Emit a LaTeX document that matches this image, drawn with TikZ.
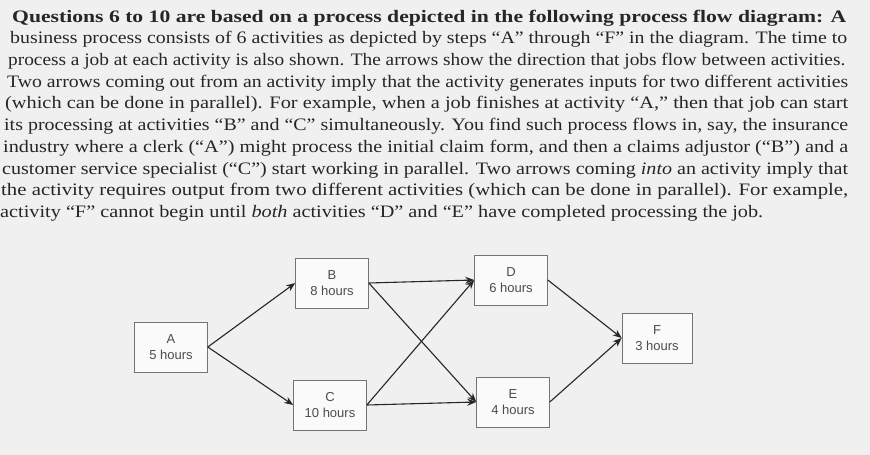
\documentclass[tikz,border=0pt]{standalone}
\usepackage{fontspec}
\setmainfont{Liberation Serif}
\setsansfont{Liberation Sans}
\usetikzlibrary{arrows.meta}
\begin{document}
\begin{tikzpicture}[x=1pt,y=-1pt,
  txt/.style={anchor=west,inner sep=0pt,font=\fontsize{17.5}{20}\selectfont,text=black!85},
  proc/.style={draw=black!55,line width=0.6pt,fill=white!96!gray,minimum width=73pt,minimum height=50pt,align=center,font=\sffamily\fontsize{13}{16}\selectfont,text=black!70},
  flow/.style={line width=1.1pt,draw=black!85,-{Stealth[length=9pt,width=7pt]}}]
\fill[black!6] (0,0) rectangle (870,455);
\useasboundingbox (0,0) rectangle (870,455);
\node[txt] (l1) at (12,18) {\resizebox{834pt}{\height}{\textbf{Questions 6 to 10 are based on a process depicted in the following process flow diagram: A}}};
\node[txt] (l2) at (10,39) {\resizebox{837pt}{\height}{business process consists of 6 activities as depicted by steps “A” through “F” in the diagram. The time to}};
\node[txt] (l3) at (8,61) {\resizebox{837pt}{\height}{process a job at each activity is also shown. The arrows show the direction that jobs flow between activities.}};
\node[txt] (l4) at (7,83) {\resizebox{841pt}{\height}{Two arrows coming out from an activity imply that the activity generates inputs for two different activities}};
\node[txt] (l5) at (5,104) {\resizebox{843pt}{\height}{(which can be done in parallel). For example, when a job finishes at activity “A,” then that job can start}};
\node[txt] (l6) at (4,126) {\resizebox{844pt}{\height}{its processing at activities “B” and “C” simultaneously. You find such process flows in, say, the insurance}};
\node[txt] (l7) at (3,148) {\resizebox{845pt}{\height}{industry where a clerk (“A”) might process the initial claim form, and then a claims adjustor (“B”) and a}};
\node[txt] (l8) at (2,170) {\resizebox{846pt}{\height}{customer service specialist (“C”) start working in parallel. Two arrows coming \textit{into} an activity imply that}};
\node[txt] (l9) at (1,191) {\resizebox{847pt}{\height}{the activity requires output from two different activities (which can be done in parallel). For example,}};
\node[txt] (l10) at (0,213) {\resizebox{763pt}{\height}{activity “F” cannot begin until \textit{both} activities “D” and “E” have completed processing the job.}};

\node[proc] (A) at (171,347) {A\\5 hours};
\node[proc] (B) at (332,283) {B\\8 hours};
\node[proc] (C) at (330,405) {C\\10 hours};
\node[proc] (D) at (511,280) {D\\6 hours};
\node[proc] (E) at (513,402) {E\\4 hours};
\node[proc,minimum width=70pt] (F) at (657,338) {F\\3 hours};

\draw[flow] (A.east) -- (B.west);
\draw[flow] (A.east) -- (C.west);
\draw[flow] (B.east) -- (D.west);
\draw[flow] (B.east) -- (E.west);
\draw[flow] (C.east) -- (D.west);
\draw[flow] (C.east) -- (E.west);
\draw[flow] (D.east) -- (F.west);
\draw[flow] (E.east) -- (F.west);
\end{tikzpicture}
\end{document}
